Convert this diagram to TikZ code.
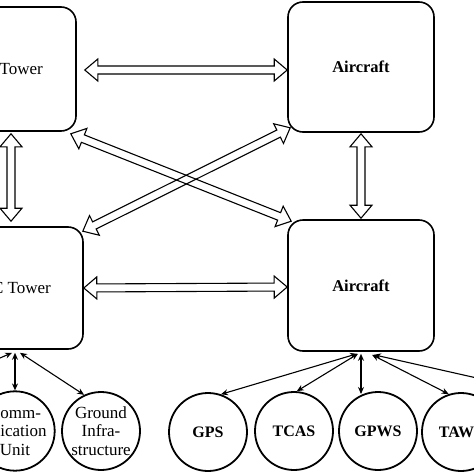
\documentclass[tikz,border=0pt]{standalone}
\usepackage{fontspec}
\setmainfont{Liberation Serif}
\usetikzlibrary{calc,arrows.meta}
\newcommand{\dbarrow}[2]{%
  \coordinate (q1) at ($(#1)!13pt!(#2)$);
  \coordinate (q2) at ($(#2)!13pt!(#1)$);
  \draw[blockarrow] (#1) -- ($(q1)!11pt!90:(#2)$) -- ($(q1)!4pt!90:(#2)$)
    -- ($(q2)!4pt!-90:(#1)$) -- ($(q2)!11pt!-90:(#1)$) -- (#2)
    -- ($(q2)!11pt!90:(#1)$) -- ($(q2)!4pt!90:(#1)$)
    -- ($(q1)!4pt!-90:(#2)$) -- ($(q1)!11pt!-90:(#2)$) -- cycle;}
\tikzset{
  box/.style={draw, line width=1.6pt, rounded corners=15pt, inner sep=0pt, font=\fontsize{17}{18}\selectfont},
  acbox/.style={box, font=\fontsize{16.5}{18}\selectfont\bfseries},
  sensor/.style={circle, draw, line width=1.8pt, minimum size=78pt, inner sep=0pt, align=center},
  sensorb/.style={sensor, font=\fontsize{16}{18}\selectfont\bfseries},
  sensorr/.style={sensor, font=\fontsize{17}{18.5}\selectfont},
  blockarrow/.style={draw, line width=1.1pt, line join=miter},
  link/.style={{Stealth[length=7pt,width=6pt]}-{Stealth[length=7pt,width=6pt]}, line width=1.1pt}
}
\begin{document}
\begin{tikzpicture}[x=1pt,y=-1pt]
\useasboundingbox (0,0) rectangle (474,474);
% boxes
\node[box, minimum width=146pt, minimum height=124pt] (twrA) at (3,69) {ATC Tower};
\node[box, minimum width=144pt, minimum height=122pt] (twrB) at (11,288) {ATC Tower};
\node[acbox, minimum width=146pt, minimum height=130pt] (acA) at (361,67) {Aircraft};
\node[acbox, minimum width=146pt, minimum height=131pt] (acB) at (361,285.5) {Aircraft};
% circles
\node[sensorr] (comm) at (15,431) {Comm-\\unication\\Unit};
\node[sensorr] (ground) at (101,431) {Ground\\Infra-\\structure};
\node[sensorb] (gps) at (208,432) {GPS};
\node[sensorb] (tcas) at (294,431) {TCAS};
\node[sensorb] (gpws) at (378,431) {GPWS};
\node[sensorb] (taws) at (461,432) {TAWS};
% block arrow end points
\coordinate (h1s) at ($(twrA.east)+(8,1)$);
\coordinate (h1e) at ($(acA.west)+(0,3)$);
\coordinate (h2s) at (twrB.east);
\coordinate (h2e) at ($(acB.west)+(0,1.5)$);
\coordinate (v1s) at ($(twrA.south)+(8,2)$);
\coordinate (v1e) at ($(twrB.north)+(0,-5)$);
\coordinate (v2s) at ($(acA.south)+(0,1)$);
\coordinate (v2e) at ($(acB.north)+(0,-1)$);
\coordinate (das) at ($(twrA.south east)+(-6,2)$);
\coordinate (dae) at ($(acB.north west)+(4,2)$);
\coordinate (dbs) at ($(twrB.north east)+(-1,5)$);
\coordinate (dbe) at ($(acA.south west)+(3,-5)$);
\dbarrow{h1s}{h1e}
\dbarrow{h2s}{h2e}
\dbarrow{v1s}{v1e}
\dbarrow{v2s}{v2e}
\dbarrow{das}{dae}
\dbarrow{dbs}{dbe}
% links
\coordinate (offL) at (-30,371);
\coordinate (offR) at (530,390);
\draw[link] ($(twrB.south)+(1,3)$) -- (offL);
\draw[link] ($(twrB.south)+(4,3)$) -- (comm.north);
\draw[link] ($(twrB.south)+(9,3)$) -- (ground.115);
\draw[link] ($(acB.south)+(-4,2)$) -- (gps.71);
\draw[link] ($(acB.south)+(-3,2)$) -- (tcas.86);
\draw[link] ($(acB.south)+(0,2)$) -- (acB.south |- gpws.112);
\draw[link] ($(acB.south)+(11,3)$) -- (taws.108);
\draw[link] ($(acB.south)+(13,3)$) -- (offR);
\end{tikzpicture}
\end{document}
